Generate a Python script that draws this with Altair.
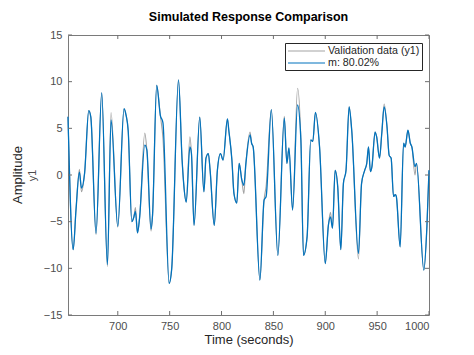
import altair as alt
import pandas as pd

# time points (seconds)
t = [652, 657, 659.7, 663, 665, 668, 672, 674, 679, 684.5, 690, 693.5, 700,
     706, 708, 710, 713.5, 715.5, 717, 719, 721, 726, 728, 732, 733.5, 737.5,
     741, 743.5, 749.5, 752, 758.5, 762, 763.5, 766, 769.5, 771, 773.5, 779,
     783, 785, 787.3, 789, 793, 796, 799, 801.5, 805.7, 807, 810, 812, 814.7,
     817, 819.5, 821.5, 823.5, 827.5, 829, 830.5, 837, 841, 843, 848, 854.3,
     860.5, 863, 865, 868.5, 873.3, 876.5, 879, 882.5, 886, 888, 890.5, 894.5,
     900, 903, 905, 907, 909.5, 912, 915, 917.5, 920, 923, 925.5, 932, 935,
     938, 940, 941.7, 943.5, 945, 948, 949.5, 952.3, 954.5, 956.8, 959.5,
     961.6, 963.5, 965.8, 967.5, 968.5, 972.2, 975.5, 977, 979.7, 982, 983.5,
     986.5, 988, 995, 998, 1000]

# model output (blue)
model = [6.25, -8.0, -3.75, 0.3, -1.4, 0.2, 6.9, 6.2, -6.25, 8.8, -9.6, 5.9, -5.5,
         7.1, 6.4, 4.8, -5.0, -4.5, -3.9, -6.2, -4.6, 3.2, 2.7, -5.8, -4.3, 9.6,
         6.4, 5.6, -11.6, -10.0, 10.2, 1.6, -0.9, -2.9, 3.0, 2.3, -5.4, 6.2,
         -1.8, 1.8, 2.3, 0.5, -5.4, 0.5, 2.3, 1.6, 6.0, 4.8, 1.6, -2.0, -3.0,
         1.25, -0.5, -1.1, 1.25, 4.3, 3.4, 3.0, -11.25, -2.7, -2.3, 7.0, -8.6,
         6.1, 1.25, 2.9, -3.75, 7.5, 3.75, -8.6, -6.6, 3.75, 3.6, 6.7, 3.0,
         -9.5, -5.4, -4.5, -5.7, 0.5, -1.25, -8.0, -0.9, 0.5, 7.3, 4.8, -8.4, -0.9,
         0.5, 1.25, 3.0, 0.36, 0.9, 4.6, 4.1, 1.8, 4.5, 7.3, 5.2,
         2.1, 1.8, -2.3, -2.1, -2.3, -7.7, 3.4, 3.0, 4.8, 3.4, 3.0,
         0.9, 1.25, -10.2, -5.5, 0.5]

# validation data (gray)
valid = [6.25, -8.0, -3.75, 0.6, -1.8, 0.2, 6.9, 6.2, -6.4, 8.8, -9.8, 6.7, -5.6,
         7.1, 6.4, 4.8, -5.0, -4.5, -3.5, -6.2, -4.6, 4.5, 2.7, -6.0, -4.3, 9.6,
         6.4, 4.0, -11.6, -10.0, 10.2, 1.6, -0.9, -2.9, 4.1, 2.3, -5.4, 6.2,
         -1.8, 1.8, 2.3, 0.5, -5.4, 0.5, 2.3, 1.6, 6.0, 4.8, 1.6, -2.0, -3.0,
         1.25, -0.5, -2.0, 1.25, 4.6, 3.4, 3.0, -11.25, -2.7, -1.2, 7.0, -8.6,
         6.3, 1.25, 2.9, -3.75, 9.3, 3.75, -8.6, -6.6, 3.75, 3.6, 6.7, 3.0,
         -9.5, -5.4, -4.0, -5.7, 0.5, -1.25, -8.0, -0.9, 0.5, 7.3, 4.8, -9.0, -0.9,
         0.5, 1.25, 3.0, 0.36, 0.9, 4.6, 4.1, 1.8, 4.5, 7.6, 5.2,
         2.1, 1.8, -2.3, -2.1, -2.3, -7.7, 3.4, 3.0, 4.8, 3.4, 3.0,
         0.0, 1.25, -10.2, -5.5, 0.5]

series_names = ["Validation data (y1)", "m: 80.02%"]
series_colors = ["#a3a3a3", "#0072BD"]
x_ticks = [700, 750, 800, 850, 900, 950, 1000]
y_ticks = [-15, -10, -5, 0, 5, 10, 15]

W, H = 361, 280
FONT = "Liberation Sans"

df_v = pd.DataFrame({"t": t, "y": valid, "s": series_names[0]})
df_m = pd.DataFrame({"t": t, "y": model, "s": series_names[1]})
df_xt = pd.DataFrame({"v": x_ticks})
df_yt = pd.DataFrame({"v": y_ticks})

xscale = alt.Scale(domain=[652, 1000], nice=False, zero=False)
yscale = alt.Scale(domain=[-15, 15], nice=False)
cscale = alt.Scale(domain=series_names, range=series_colors)

xaxis = alt.Axis(values=x_ticks, format="d", ticks=False, domain=False, grid=False,
                 labelFont=FONT, labelFontSize=11, labelColor="#4d4d4d",
                 labelPadding=5, title="Time (seconds)", titleFont=FONT,
                 titleFontSize=13, titleFontWeight="normal", titleColor="#262626",
                 titlePadding=2)
yaxis = alt.Axis(values=y_ticks, format="d", ticks=False, domain=False, grid=False,
                 labelFont=FONT, labelFontSize=11, labelColor="#4d4d4d",
                 labelPadding=6, title="y1", titleFont=FONT, titleFontSize=11,
                 titleFontWeight="normal", titleColor="#4d4d4d", titlePadding=6)

legend = alt.Legend(title=None, orient="none", legendX=217, legendY=8,
                    strokeColor="#262626", fillColor="white", padding=2,
                    labelFont=FONT, labelFontSize=10.7, labelColor="#262626",
                    symbolType="M-1,0L6.4,0", symbolSize=100, symbolStrokeWidth=1.2,
                    rowPadding=1, labelOffset=29)

gray = alt.Chart(df_v).mark_line(strokeWidth=1.1, interpolate="monotone").encode(
    x=alt.X("t:Q", scale=xscale, axis=xaxis),
    y=alt.Y("y:Q", scale=yscale, axis=yaxis),
    color=alt.Color("s:N", scale=cscale, legend=legend, sort=series_names),
)
blue = alt.Chart(df_m).mark_line(strokeWidth=1.3, interpolate="monotone").encode(
    x=alt.X("t:Q", scale=xscale),
    y=alt.Y("y:Q", scale=yscale),
    color=alt.Color("s:N", scale=cscale, legend=legend, sort=series_names),
)

tick_color = "#6e6e6e"
xt_bottom = alt.Chart(df_xt).mark_rule(color=tick_color).encode(
    x=alt.X("v:Q", scale=xscale), y=alt.value(H), y2=alt.value(H - 4))
xt_top = alt.Chart(df_xt).mark_rule(color=tick_color).encode(
    x=alt.X("v:Q", scale=xscale), y=alt.value(0), y2=alt.value(4))
yt_left = alt.Chart(df_yt).mark_rule(color=tick_color).encode(
    y=alt.Y("v:Q", scale=yscale), x=alt.value(0), x2=alt.value(4))
yt_right = alt.Chart(df_yt).mark_rule(color=tick_color).encode(
    y=alt.Y("v:Q", scale=yscale), x=alt.value(W), x2=alt.value(W - 4))

amp = alt.Chart(pd.DataFrame({"txt": ["Amplitude"]})).mark_text(
    angle=270, font=FONT, fontSize=13, color="#262626", baseline="middle",
    align="center").encode(x=alt.value(-50), y=alt.value(H / 2), text="txt:N")

chart = alt.layer(gray, blue, xt_bottom, xt_top, yt_left, yt_right, amp).properties(
    width=W, height=H,
    title=alt.TitleParams("Simulated Response Comparison", font=FONT,
                          fontSize=12.5, fontWeight="bold", color="#000000",
                          offset=6, anchor="middle"),
    autosize=alt.AutoSizeParams(type="none"),
    padding={"left": 60, "top": 27, "right": 30, "bottom": 35},
).configure_view(stroke="#7a7a7a", strokeWidth=1)

chart.save("out.html", embed_options={"renderer": "svg", "actions": False})
